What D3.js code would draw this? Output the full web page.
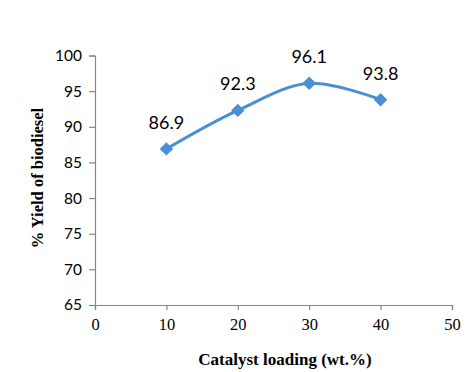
<!DOCTYPE html>
<html><head><meta charset="utf-8">
<script src="https://cdn.jsdelivr.net/npm/d3@7"></script>
<style>body{margin:0;background:#fff}</style>
</head><body>
<svg id="c" width="474" height="372"></svg>
<script>
const loading = [10, 20, 30, 40];
const yieldVals = [86.9, 92.3, 96.1, 93.8];
const xTicks = [0, 10, 20, 30, 40, 50];
const yTicks = [65, 70, 75, 80, 85, 90, 95, 100];

const svg = d3.select("#c");
const x = d3.scaleLinear().domain([0, 50]).range([95, 452]);
const y = d3.scaleLinear().domain([65, 100]).range([305, 55.5]);
const axisColor = "#868686";

const xa = svg.append("g").attr("transform", "translate(0,305)")
  .call(d3.axisBottom(x).tickValues(xTicks).tickSize(5).tickPadding(8));
xa.selectAll("text").attr("font-family", "'Liberation Serif','Times New Roman',serif").attr("font-size", 16.5).attr("fill", "#000");
const ya = svg.append("g").attr("transform", "translate(95,0)")
  .call(d3.axisLeft(y).tickValues(yTicks).tickSize(6).tickPadding(7));
ya.selectAll("text").attr("font-family", "Lato, 'Open Sans', sans-serif").attr("font-size", 15.5).attr("fill", "#000");
svg.selectAll(".domain, .tick line").attr("stroke", axisColor).attr("stroke-width", 1.2);

const pts = loading.map((d, i) => [x(d), y(yieldVals[i])]);
svg.append("path").datum(pts)
  .attr("d", d3.line().curve(d3.curveCatmullRom.alpha(0.5)))
  .attr("fill", "none").attr("stroke", "#4a8ed3").attr("stroke-width", 3);

svg.selectAll(".m").data(pts).enter().append("path")
  .attr("transform", d => `translate(${d[0]},${d[1]})`)
  .attr("d", d3.symbol().type(d3.symbolDiamond2).size(115))
  .attr("fill", "#4a8ed3");

svg.selectAll(".lbl").data(loading).enter().append("text")
  .attr("x", (d) => x(d))
  .attr("y", (d, i) => y(yieldVals[i]) - 20)
  .attr("text-anchor", "middle")
  .attr("font-family", "Lato, 'Open Sans', sans-serif").attr("font-size", 18).attr("fill", "#000")
  .text((d, i) => yieldVals[i].toFixed(1));

svg.append("text").attr("x", 285).attr("y", 365).attr("text-anchor", "middle")
  .attr("font-family", "'Liberation Serif','Times New Roman',serif").attr("font-weight", "bold").attr("font-size", 17)
  .text("Catalyst loading (wt.%)");
svg.append("text").attr("transform", "translate(43,178) rotate(-90)").attr("text-anchor", "middle")
  .attr("font-family", "'Liberation Serif','Times New Roman',serif").attr("font-weight", "bold").attr("font-size", 16.5)
  .text("% Yield of biodiesel");
</script>
</body></html>
